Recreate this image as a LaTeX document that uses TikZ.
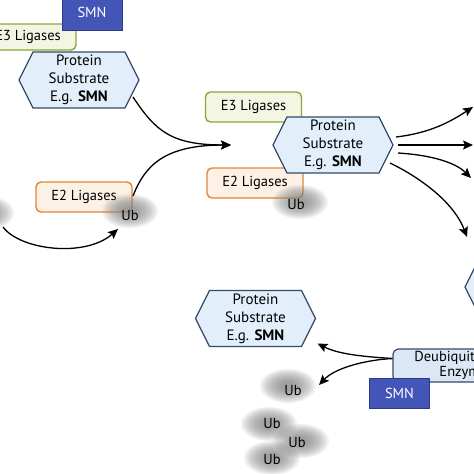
\documentclass[tikz,border=0pt]{standalone}
\usepackage{fontspec}
\setmainfont{PT Sans}
\usetikzlibrary{arrows.meta,calc}
\definecolor{smnblue}{RGB}{68,85,184}
\definecolor{smnedge}{RGB}{45,58,140}
\definecolor{hexfill}{RGB}{226,239,250}
\definecolor{hexedge}{RGB}{52,74,102}
\definecolor{ethreefill}{RGB}{244,246,228}
\definecolor{ethreeedge}{RGB}{140,166,60}
\definecolor{etwofill}{RGB}{253,241,230}
\definecolor{etwoedge}{RGB}{226,134,56}
\definecolor{dubfill}{RGB}{219,231,245}
\tikzset{
 hexline/.style={draw=hexedge, fill=hexfill, line width=1.2pt, line join=miter},
 hextext/.style={align=center, font=\fontsize{15}{18}\selectfont, inner sep=0pt},
 ligbox/.style={rounded corners=5pt, line width=1.4pt, minimum width=96pt, minimum height=30pt, font=\fontsize{14.5}{15}\selectfont, inner sep=0pt},
 ethree/.style={ligbox, draw=ethreeedge, fill=ethreefill},
 etwo/.style={ligbox, draw=etwoedge, fill=etwofill},
 smnbox/.style={draw=smnedge, fill=smnblue, text=white, minimum width=60pt, minimum height=30pt, font=\fontsize{14.5}{15}\selectfont, inner sep=0pt, line width=0.8pt},
 dubbox/.style={draw=hexedge, fill=dubfill, rounded corners=6pt, line width=1.2pt, minimum width=147pt, minimum height=33pt, align=center, font=\fontsize{14.5}{15}\selectfont, inner sep=0pt},
 ubtext/.style={font=\fontsize{14.5}{15}\selectfont, inner sep=0pt},
 conn/.style={line width=1.3pt, -{Stealth[length=10pt,width=9pt,inset=2pt]}},
}
\newcommand\hexshape[3]{%
 \draw[hexline] (#2) ++(-60,0) -- ++(14,-28) -- ++(92,0) -- ++(14,28) -- ++(-14,28) -- ++(-92,0) -- cycle;
 \node[hextext] (#1) at (#2) {#3};}
\newcommand\ubblob[2]{%
 \foreach \s in {1,0.93,0.86,0.79,0.72,0.65,0.58,0.51,0.44,0.37,0.3,0.23}{\fill[gray, opacity=0.1] (#2) ellipse [x radius=\s*28pt, y radius=\s*17pt];}
 \coordinate (#1) at (#2);}
\begin{document}
\begin{tikzpicture}[x=1pt,y=-1pt]
\path[use as bounding box] (0,0) rectangle (474,474);
\clip (0,0) rectangle (474,474);
\fill[white] (0,0) rectangle (474,474);
% top-left group
\node[ethree, minimum height=26pt] (ethreeA) at (28,37) {E3 Ligases};
\node[smnbox, minimum height=36pt] (smnA) at (92,12) {SMN};
\hexshape{hexA}{79,80}{Protein\\Substrate\\E.g. \textbf{SMN}}
% left E2 group
\ubblob{ubZ}{-14,213}
\node[etwo] (etwoA) at (84,197) {E2 Ligases};
\ubblob{ubA}{130,211}
\node[ubtext] at (130,215) {Ub};
% middle group
\node[ethree] (ethreeB) at (253.5,107) {E3 Ligases};
\node[etwo] (etwoB) at (255,183) {E2 Ligases};
\hexshape{hexB}{333,145}{Protein\\Substrate\\E.g. \textbf{SMN}}
\ubblob{ubB}{300,202}
\node[ubtext] at (296,204) {Ub};
% right partial hexagon
\hexshape{hexD}{525,287}{}
% bottom group
\hexshape{hexC}{255.5,318.5}{Protein\\Substrate\\E.g. \textbf{SMN}}
\node[dubbox] (dub) at (466.5,365.5) {Deubiquitinating\\Enzymes};
\node[smnbox] (smnB) at (399.5,393) {SMN};
\ubblob{ubC}{288,386}
\node[ubtext] at (293,390) {Ub};
\ubblob{ubD}{269,424}
\node[ubtext] at (272,423) {Ub};
\ubblob{ubE}{301,441}
\node[ubtext] at (297,442) {Ub};
\ubblob{ubF}{272,458}
\node[ubtext] at (272,459) {Ub};
% coordinates for free ends
\coordinate (tipA) at (231,145);
\coordinate (outA) at (473,107);
\coordinate (outB) at (473,145);
\coordinate (outC) at (471,178);
\coordinate (outD) at (467,237);
\coordinate (dubsrc) at ($(dub.west)+(0,-7)$);
% connectors
\draw[conn] ($(hexA.center)+(54,17)$) .. controls (155,130) and (170,145) .. (tipA);
\draw[conn] ($(ubA)+(3,-15)$) .. controls (145,165) and (165,145) .. (tipA);
\draw[conn] ($(ubZ)+(17,14)$) .. controls (20,250) and (85,258) .. ($(ubA)+(-12,18)$);
\draw[conn] ($(hexB.center)+(63,-8)$) .. controls (430,133) and (450,122) .. (outA);
\draw[conn] ($(hexB.center)+(65,0)$) -- (outB);
\draw[conn] ($(hexB.center)+(65,8)$) .. controls (430,155) and (455,162) .. (outC);
\draw[conn] ($(hexB.center)+(57,18)$) .. controls (425,180) and (455,205) .. (outD);
\draw[conn] (dubsrc) .. controls (370,357) and (340,355) .. ($(hexC.center)+(62,25)$);
\draw[conn] (dubsrc) .. controls (365,360) and (335,368) .. ($(ubC)+(31,-1)$);
\end{tikzpicture}
\end{document}
